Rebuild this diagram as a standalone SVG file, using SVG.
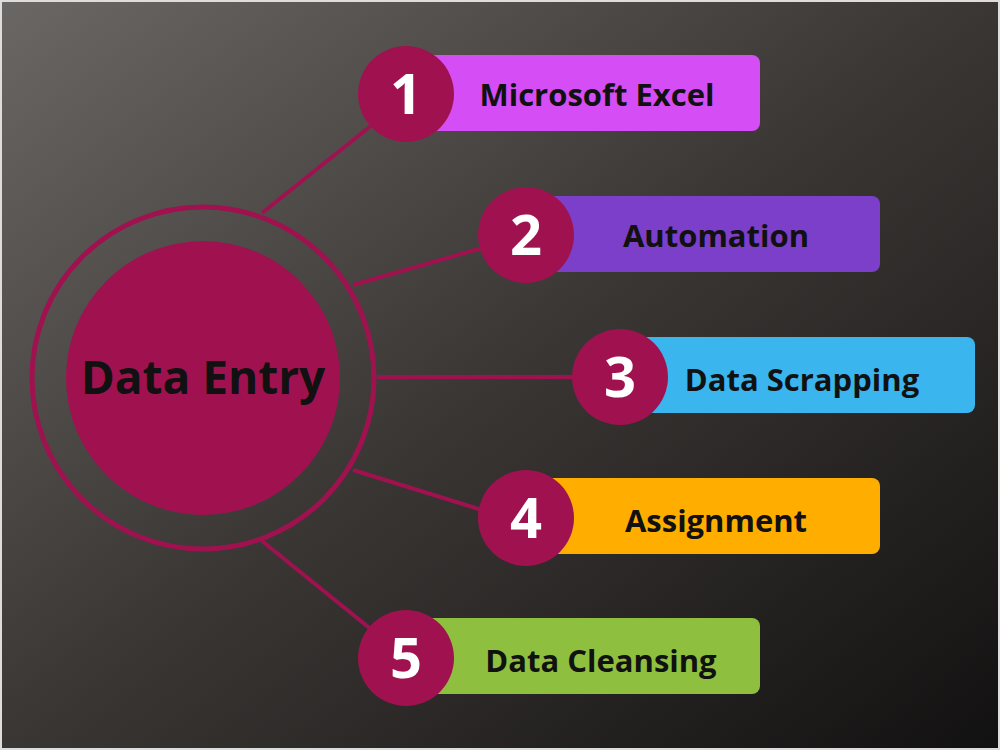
<svg xmlns="http://www.w3.org/2000/svg" width="1000" height="750" viewBox="0 0 1000 750">
<defs>
<linearGradient id="bg" x1="0" y1="0" x2="1" y2="1">
<stop offset="0" stop-color="#6b6764"/>
<stop offset="0.5" stop-color="#3a3634"/>
<stop offset="1" stop-color="#121111"/>
</linearGradient>
</defs>
<style>
.num{fill:#a0124f}
.nt{font-family:"Open Sans","DejaVu Sans",sans-serif;font-weight:bold;font-size:56px;fill:#fff;text-anchor:middle}
.lt{font-family:"Open Sans","DejaVu Sans",sans-serif;font-weight:bold;font-size:31px;fill:#111;text-anchor:middle}
.ln{stroke:#a0124f;stroke-width:4}
</style>
<rect width="1000" height="750" fill="url(#bg)"/>
<rect x="1" y="1" width="998" height="748" fill="none" stroke="#ddd" stroke-width="2"/>
<g id="connectors">
<line class="ln" x1="262" y1="213" x2="372" y2="125"/>
<line class="ln" x1="353" y1="285" x2="482" y2="248"/>
<line class="ln" x1="377" y1="377" x2="575" y2="377"/>
<line class="ln" x1="353" y1="470" x2="482" y2="510"/>
<line class="ln" x1="262" y1="541" x2="372" y2="630"/>
</g>
<g id="center">
<circle cx="203" cy="378" r="171" fill="none" stroke="#a0124f" stroke-width="5"/>
<circle cx="203" cy="378" r="137" fill="#a0124f"/>
<text x="203" y="394" font-family="Open Sans, DejaVu Sans, sans-serif" font-weight="bold" font-size="46" fill="#111" text-anchor="middle">Data Entry</text>
</g>
<g id="n1"><rect x="420" y="55" width="340" height="76" rx="8" fill="#d54ef5"/><circle class="num" cx="406" cy="94" r="48"/><text class="nt" x="406" y="114">1</text><text class="lt" x="597" y="106">Microsoft Excel</text></g>
<g id="n2"><rect x="540" y="196" width="340" height="76" rx="8" fill="#7b3fc9"/><circle class="num" cx="526" cy="235" r="48"/><text class="nt" x="526" y="255">2</text><text class="lt" x="716" y="247">Automation</text></g>
<g id="n3"><rect x="635" y="337" width="340" height="76" rx="8" fill="#3bb5ee"/><circle class="num" cx="620" cy="377" r="48"/><text class="nt" x="620" y="397">3</text><text class="lt" x="802" y="391">Data Scrapping</text></g>
<g id="n4"><rect x="540" y="478" width="340" height="76" rx="8" fill="#ffae00"/><circle class="num" cx="526" cy="518" r="48"/><text class="nt" x="526" y="538">4</text><text class="lt" x="716" y="532">Assignment</text></g>
<g id="n5"><rect x="420" y="618" width="340" height="76" rx="8" fill="#8ebf3f"/><circle class="num" cx="406" cy="658" r="48"/><text class="nt" x="406" y="678">5</text><text class="lt" x="601" y="672">Data Cleansing</text></g>
</svg>
